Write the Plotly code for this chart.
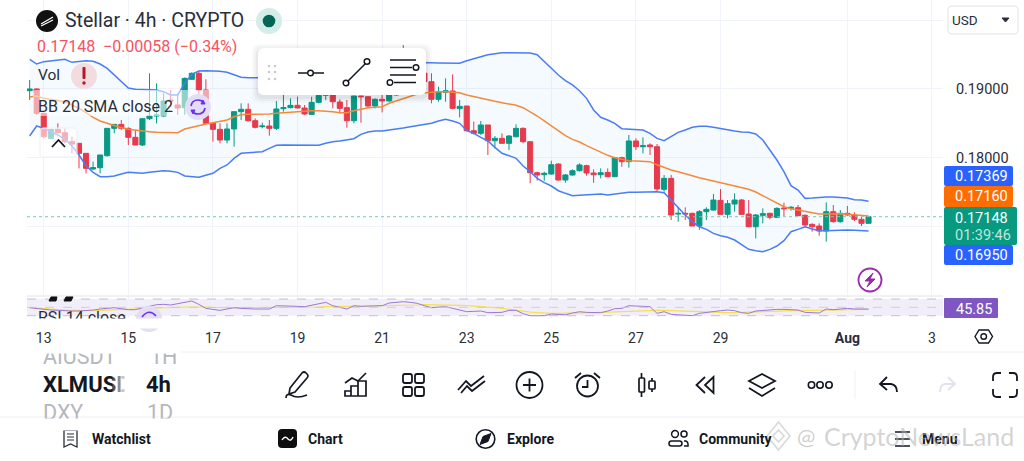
import re
import pandas as pd
import plotly.graph_objects as go

W, H = 1024, 461

# candle data, prices in 1e-5 units
opens = [18975,19000,18647,18284,18415,18366,18236,18212,18067,17840,
         17859,18033,18429,18487,18429,18299,18188,18569,18608,18608,
         18840,18768,18729,19140,19227,18985,18502,18415,18260,18420,
         18671,18705,18540,18453,18463,18429,18714,18729,18763,18724,
         18632,18806,18908,18913,18811,18729,18540,18898,18888,18753,
         18850,18826,18913,19060,19200,19120,19230,19106,18850,18951,
         18971,18714,18753,18395,18357,18478,18250,18284,18212,18308,
         18429,18236,17786,17757,17767,17912,17680,17753,17815,17888,
         17782,17757,17791,17728,18004,17946,18246,18163,18188,18163,
         17545,17704,17187,17197,17197,17013,17221,17245,17385,17182,
         17332,17390,17187,17003,17168,17197,17139,17274,17269,17279,
         17168,17037,17013,16941,17221,17076,17197,17173,17110,17052]
highs = [19130,19009,18647,18415,18502,18429,18308,18212,18067,17946,
         18043,18429,18487,18550,18444,18405,18574,19227,19082,18937,
         18985,18937,19169,19241,19265,19140,18502,18502,18502,18671,
         18792,18792,18574,18511,18550,18826,18913,18864,18888,18768,
         18888,19082,19000,18960,18850,18840,18898,18900,18890,18864,
         18913,18985,19080,19637,19300,19260,19500,19227,19033,19154,
         19212,18840,18753,18526,18536,18478,18318,18357,18333,18487,
         18444,18236,17801,17801,17960,17922,17767,17835,17922,17902,
         17835,17849,17849,18009,18018,18333,18284,18299,18212,18202,
         17753,17753,17284,17284,17206,17245,17284,17477,17550,17390,
         17487,17405,17390,17187,17269,17206,17284,17351,17303,17318,
         17182,17052,17052,17356,17318,17245,17303,17211,17148,17158]
lows = [18840,18623,18284,18270,18357,18212,18067,17849,17777,17825,
        17777,18018,18357,18405,18188,18188,18173,18550,18502,18598,
        18743,18623,18623,19130,18888,18502,18236,18212,18212,18163,
        18550,18526,18429,18429,18323,18405,18671,18719,18719,18623,
        18623,18792,18840,18719,18647,18439,18502,18511,18719,18719,
        18661,18816,18900,19000,19090,19080,19100,18792,18816,18816,
        18705,18589,18386,18342,18333,18043,18139,18212,18115,18299,
        18212,17632,17670,17670,17757,17670,17641,17743,17806,17743,
        17641,17704,17728,17728,17873,17859,18115,18067,18043,17511,
        17511,17100,17076,17100,17013,16955,17100,17235,17182,17124,
        17221,17173,17003,16834,17052,17110,17129,17158,17235,17158,
        16994,16931,16873,16786,17061,17061,17163,17086,17013,17052]
closes = [19000,18647,18308,18415,18366,18236,18202,18067,17849,17859,
          18043,18429,18487,18429,18299,18188,18569,18608,18623,18826,
          18826,18724,19154,19227,18985,18502,18415,18260,18420,18671,
          18705,18540,18444,18463,18429,18710,18729,18763,18724,18637,
          18806,18908,18920,18816,18719,18540,18898,18888,18753,18850,
          18826,18913,19060,19200,19120,19230,19106,18850,18961,18975,
          18719,18748,18395,18357,18478,18250,18284,18212,18318,18429,
          18236,17786,17753,17777,17902,17680,17753,17815,17898,17782,
          17757,17786,17728,18004,17946,18246,18163,18178,18163,17550,
          17704,17173,17197,17187,17013,17221,17255,17390,17182,17337,
          17390,17182,17003,17173,17192,17139,17269,17264,17284,17163,
          17028,17003,16941,17221,17076,17197,17173,17110,17052,17148]

# bollinger bands
bb_upper = [19430,19362,19396,19410,19420,19430,19386,19396,19410,19401,
            19362,19299,19203,19106,19014,18995,18995,18985,18985,18961,
            18913,18913,19082,19212,19261,19265,19265,19256,19241,19203,
            19169,19164,19159,19164,19165,19170,19180,19190,19200,19215,
            19230,19245,19260,19275,19285,19295,19310,19320,19330,19340,
            19350,19360,19370,19375,19380,19385,19386,19381,19377,19372,
            19372,19372,19410,19444,19468,19497,19512,19526,19526,19526,
            19526,19522,19497,19396,19299,19203,19120,19058,18975,18864,
            18695,18589,18550,18502,18424,18420,18415,18405,18357,18284,
            18250,18308,18371,18405,18444,18458,18458,18444,18424,18410,
            18390,18376,18371,18347,18260,18115,17970,17801,17598,17535,
            17414,17419,17429,17434,17434,17429,17419,17395,17390,17371]
bb_basis = [18884,18898,18864,18850,18840,18816,18768,18719,18656,18589,
            18536,18502,18463,18439,18415,18400,18386,18381,18371,18366,
            18366,18366,18420,18444,18478,18492,18511,18526,18550,18598,
            18627,18632,18632,18637,18637,18647,18656,18666,18671,18676,
            18685,18685,18681,18671,18656,18656,18685,18705,18729,18734,
            18743,18792,18826,18864,18898,18927,18946,18956,18961,18961,
            18956,18946,18913,18888,18874,18840,18821,18801,18782,18763,
            18729,18671,18608,18536,18463,18395,18323,18270,18231,18178,
            18130,18076,18038,18004,17980,17960,17956,17956,17946,17902,
            17859,17825,17801,17777,17743,17714,17690,17666,17641,17617,
            17593,17569,17545,17506,17453,17390,17342,17293,17264,17245,
            17221,17202,17187,17187,17192,17192,17182,17173,17163,17158]
bb_lower = [18318,18463,18429,18381,18333,18270,18173,18043,17888,17791,
            17728,17728,17738,17767,17791,17786,17777,17791,17806,17815,
            17806,17791,17738,17724,17719,17748,17777,17849,17898,17994,
            18067,18076,18086,18091,18139,18183,18188,18188,18192,18188,
            18183,18183,18212,18236,18246,18260,18279,18342,18376,18391,
            18391,18405,18415,18434,18453,18468,18482,18502,18536,18560,
            18536,18502,18395,18357,18299,18246,18154,18067,18033,17994,
            17883,17801,17704,17641,17593,17525,17487,17453,17458,17463,
            17472,17477,17463,17477,17497,17501,17501,17506,17511,17511,
            17496,17390,17269,17173,17076,17003,16965,16907,16873,16849,
            16810,16738,16675,16655,16641,16675,16723,16800,16931,16965,
            17003,16970,16945,16945,16950,16955,16955,16950,16945,16941]

# rsi pane
rsi = [49.2,46.8,45.2,43.6,42.8,41.2,41.2,41.2,42,43.6,
       46,47.6,49.2,46.8,44.4,44.4,49.2,52.4,56.4,57.2,
       55.6,58.8,63.6,65.2,57.2,47.6,45.2,42.8,46,49.2,
       47.6,46,46,46,46,54,54,53.2,52.4,51.6,
       55.6,59.6,62,54,50.8,46,54,52.4,53.2,53.2,
       54,60.4,62,63.6,62,59.6,54,49.2,50.8,51.6,
       47.6,43.6,39.6,40.4,41.2,37.2,38,38,42.8,42.8,
       34.8,30,30,30,34,33.2,32,36.4,39.6,38,
       37.2,37.2,41.2,46.8,47.6,54,53.2,52.4,51.6,35.6,
       39.6,33.2,32,30.8,30,35.6,38,41.2,42,43.6,
       42,37.2,35.6,41.2,42.8,43.6,45.2,45.2,44.4,43.6,
       38,37.2,36.4,46,44.4,46,47.6,46,45.2,45.85]
rsi_ma = [49.2,47.6,46,45.2,44.4,43.6,42.8,42,41.2,42,
          42.8,43.6,44.4,44.4,45.2,46,46.8,47.6,48.4,49.2,
          49.2,50,50.8,50.8,51.6,50.8,50,49.2,49.2,49.2,
          49.2,49.2,49.2,49.2,49.2,49.2,50,50,50.8,50.8,
          50.8,50.8,51.6,51.6,51.6,52.4,52.4,52.4,53.2,53.2,
          54,54,54.8,54.8,55.6,55.6,56.4,56.4,56.4,55.6,
          55.6,54.8,54,53.2,52.4,50.8,49.2,47.6,46,43.6,
          41.2,38.8,37.2,35.6,35.6,35.6,35.6,35.6,35.6,36.4,
          37.2,38,38.8,39.6,39.6,40.4,41.2,42,42.8,42.8,
          42.8,42,41.2,41.2,40.4,39.6,39.6,38.8,38,37.2,
          37.2,38,38.8,39.6,40.4,40.4,41.2,41.2,42,42,
          42.8,42.8,43.6,43.6,43.6,44.4,44.4,44.4,45.2,45.2]

tick_dates = ["2025-07-13", "2025-07-15", "2025-07-17", "2025-07-19", "2025-07-21", "2025-07-23",
              "2025-07-25", "2025-07-27", "2025-07-29", "2025-08-01", "2025-08-03"]
tick_labels = ["13", "15", "17", "19", "21", "23", "25", "27", "29", "<b>Aug</b>", "3"]
price_ticks = [0.17, 0.18, 0.19, 0.20]
price_tick_labels = ["", "0.18000", "0.19000", ""]

dates = pd.date_range("2025-07-12 16:00", periods=len(opens), freq="4h")


def scaled(values):
    return [v / 1e5 for v in values]


GREEN = "#089981"
RED = "#F23645"
INK = "#131722"
FONT = "Roboto"

shapes = []
annotations = []


def fx(x):
    return x / W


def fy(y):
    return 1 - y / H


def px_path(d):
    # turn a path written in screen pixels into paper coordinates
    out = []
    is_x = True
    for tok in re.findall(r"[MLQZ]|-?[\d.]+", d):
        if tok in "MLQZ":
            out.append(tok)
        else:
            out.append(f"{fx(float(tok)) if is_x else fy(float(tok)):.5f}")
            is_x = not is_x
    return " ".join(out)


def path(d, color=INK, width=1.7, fill=None):
    shapes.append(dict(type="path", xref="paper", yref="paper", path=px_path(d),
                       fillcolor=fill or "rgba(0,0,0,0)",
                       line=dict(color=color, width=width)))


def rrect(x0, y0, x1, y1, r=0, fill=None, color=None, width=0):
    d = (f"M {x0 + r} {y0} L {x1 - r} {y0} Q {x1} {y0} {x1} {y0 + r} L {x1} {y1 - r} "
         f"Q {x1} {y1} {x1 - r} {y1} L {x0 + r} {y1} Q {x0} {y1} {x0} {y1 - r} "
         f"L {x0} {y0 + r} Q {x0} {y0} {x0 + r} {y0} Z")
    path(d, color=color or "rgba(0,0,0,0)", width=width, fill=fill)


def circle(cx, cy, r, fill=None, color=None, width=0):
    shapes.append(dict(type="circle", xref="paper", yref="paper",
                       x0=fx(cx - r), x1=fx(cx + r), y0=fy(cy - r), y1=fy(cy + r),
                       fillcolor=fill or "rgba(0,0,0,0)",
                       line=dict(color=color or "rgba(0,0,0,0)", width=width)))


def label(text, x, y, size=14, color=INK, anchor="left", family=FONT):
    if anchor == "left":
        x -= 1
    annotations.append(dict(text=text, xref="paper", yref="paper", x=fx(x), y=fy(y),
                            xanchor=anchor, yanchor="middle", showarrow=False, borderpad=0,
                            font=dict(size=size, color=color, family=family)))


def cover(x0, y0, x1, y1, fill="#ffffff"):
    # blank box laid over a label so that it looks cut off
    annotations.append(dict(text=" ", xref="paper", yref="paper", x=fx(x0), y=fy(y0),
                            xanchor="left", yanchor="top", showarrow=False, borderpad=0,
                            width=x1 - x0, height=y1 - y0, bgcolor=fill))


fig = go.Figure()

fig.add_trace(go.Scatter(x=dates, y=scaled(bb_upper), mode="lines", yaxis="y",
                         line=dict(color="#4A7DF5", width=1.5), hoverinfo="skip"))
fig.add_trace(go.Scatter(x=dates, y=scaled(bb_lower), mode="lines", yaxis="y",
                         line=dict(color="#4A7DF5", width=1.5), fill="tonexty",
                         fillcolor="rgba(33,150,243,0.05)", hoverinfo="skip"))
fig.add_trace(go.Scatter(x=dates, y=scaled(bb_basis), mode="lines", yaxis="y",
                         line=dict(color="#F5893A", width=1.5), hoverinfo="skip"))
fig.add_trace(go.Candlestick(x=dates, open=scaled(opens), high=scaled(highs),
                             low=scaled(lows), close=scaled(closes), yaxis="y",
                             whiskerwidth=0,
                             increasing=dict(line=dict(color=GREEN, width=1), fillcolor=GREEN),
                             decreasing=dict(line=dict(color=RED, width=1), fillcolor=RED)))
fig.add_trace(go.Scatter(x=dates, y=rsi_ma, mode="lines", yaxis="y2",
                         line=dict(color="#F5E050", width=1.2), hoverinfo="skip"))
fig.add_trace(go.Scatter(x=dates, y=rsi, mode="lines", yaxis="y2",
                         line=dict(color="#9A78D8", width=1), hoverinfo="skip"))

# last price line and rsi bands
shapes.append(dict(type="line", xref="paper", yref="y", x0=fx(27), x1=fx(943),
                   y0=closes[-1] / 1e5, y1=closes[-1] / 1e5,
                   line=dict(color="#7CC7B8", width=1, dash="dot")))
shapes.append(dict(type="rect", xref="paper", yref="y2", x0=fx(27), x1=fx(943), y0=30, y1=70,
                   fillcolor="rgba(126,87,194,0.1)", line=dict(width=0), layer="below"))
for level in [70, 50, 30]:
    shapes.append(dict(type="line", xref="paper", yref="y2", x0=fx(27), x1=fx(943), y0=level, y1=level,
                       line=dict(color="#C6C8CF" if level == 50 else "#B2B5BE", width=0.8, dash="dash")))
path(f"M 27 296 L 943 296", color="#E0E3EB", width=1)
path("M 27 352 L 1024 352", color="#EEF0F4", width=1)
path("M 0 417 L 1024 417", color="#EEF0F4", width=1)

# header
circle(47, 21, 11, fill="#111111")
path("M 41 24 L 53 17 M 41 26 L 53 20", color="#ffffff", width=1.2)
label("Stellar · 4h · CRYPTO", 65, 21, size=19.5, color="#2A2E39")
circle(269, 21, 13, fill="#D5EDE8")
circle(269, 21, 6.3, fill="#056656")
label("0.17148", 37, 47, size=16, color="#F7525F")
label("−0.00058 (−0.34%)", 103, 47, size=16, color="#F7525F")

# legend rows
rrect(33, 90, 215, 116, r=3, fill="rgba(255,255,255,0.55)")
label("Vol", 38, 75, size=15.5, color="#2A2E39")
circle(84, 76, 13, fill="#F3DCDF")
rrect(82.5, 67, 85.5, 79, r=1, fill="#B2182B")
circle(84, 83, 1.7, fill="#B2182B")
label("BB 20 SMA close 2", 38, 106, size=16, color="#2A2E39")
circle(198, 107, 13, fill="#E3DDF5")
path("M 191 106 Q 192 100 198 100 Q 202 100 204 103 M 205 108 Q 204 114 198 114 Q 194 114 192 111",
     color="#6A32F0", width=1.7)
path("M 203 100 L 205 104 L 201 104 Z M 193 114 L 191 110 L 195 110 Z", color="#6A32F0", width=1, fill="#6A32F0")
rrect(40, 128, 77, 157, r=4, fill="rgba(255,255,255,0.6)", color="#EEF0F4", width=1)
path("M 52 147 L 58.5 140 L 65 147", color=INK, width=1.8)

# floating drawing toolbar
for grow, alpha in [(6, 0.02), (4, 0.03), (2, 0.04)]:
    rrect(258 - grow, 48 - grow + 2, 426 + grow, 95 + grow + 2, r=7, fill=f"rgba(0,0,0,{alpha})")
rrect(258, 48, 426, 95, r=6, fill="#ffffff")
for dot_x in [269, 275]:
    for dot_y in [66, 72, 79]:
        circle(dot_x, dot_y, 1.3, fill="#C9CBD1")
path("M 298 73 L 307 73 M 314 73 L 324 73", width=1.5)
circle(310.5, 73, 2.8, color=INK, width=1.5)
path("M 347.5 81.5 L 365 64", width=1.5)
circle(346, 83, 2.8, color=INK, width=1.5)
circle(367, 61.5, 2.8, color=INK, width=1.5)
path("M 390 60 L 416 60 M 390 67.5 L 412 67.5 M 390 75 L 416 75 M 394 82.5 L 416 82.5", width=1.5)
circle(416, 67.5, 2.8, color=INK, width=1.5, fill="#ffffff")
circle(390, 82.5, 2.8, color=INK, width=1.5, fill="#ffffff")

# price labels on the right
rrect(948, 6, 1018, 34, r=4, color="#E0E3EB", width=1)
label("USD", 952, 20, size=13.5, color="#2A2E39")
path("M 1002 18 L 1005.5 22 L 1009 18 Z", color="#2A2E39", width=1, fill="#2A2E39")
rrect(944, 166, 1013, 186, r=2, fill="#2962FF")
label("0.17369", 981, 176, size=14.5, color="#ffffff", anchor="center")
rrect(944, 186, 1013, 207, r=2, fill="#FF6D00")
label("0.17160", 981, 197, size=14.5, color="#ffffff", anchor="center")
rrect(944, 207, 1017, 245, r=2, fill=GREEN)
label("0.17148", 981, 218, size=14.5, color="#ffffff", anchor="center")
label("01:39:46", 983, 235, size=14.5, color="#BFE6DE", anchor="center")
rrect(944, 245, 1013, 265, r=2, fill="#2962FF")
label("0.16950", 981, 255, size=14.5, color="#ffffff", anchor="center")
rrect(944, 298, 998, 318, r=1, fill="#7E57C2")
label("45.85", 974, 309, size=14.5, color="#ffffff", anchor="center")

# lightning badge
circle(870, 280, 11.5, color="#9C27B0", width=1.8, fill="#ffffff")
path("M 873 273 L 865 281 L 870 281 L 867 287 L 875 279 L 870 279 Z", color="#9C27B0", width=1, fill="#9C27B0")

# rsi legend, cut by the bottom of the pane
path("M 51 297 L 57 297 L 56 301 L 49 301 Z M 66 297 L 73 297 L 71 301 L 64 301 Z", color="#111111", width=1, fill="#111111")
label("RSI 14 close", 38, 317, size=16, color="#2A2E39")
circle(149, 319, 13, fill="#E3DDF5")
path("M 142 317 Q 149 308 156 316", color="#6A32F0", width=1.7)
cover(27, 318, 300, 327)

# settings hexagon
path("M 975 336.5 L 979 330 L 988.5 330 L 992.5 336.5 L 988.5 343 L 979 343 Z", width=1.4)
circle(983.7, 336.5, 2.8, color=INK, width=1.4)

# symbol wheel
label("AIUSDT", 43, 356, size=21.5, color="#B5B7BD")
label("1H", 150, 356, size=21.5, color="#B5B7BD")
cover(27, 345, 180, 351.5)
label("<b>XLMUSD</b>", 43, 384, size=22, color="#131722")
cover(124, 372, 137, 396)
for step, alpha in enumerate([0.25, 0.5, 0.75]):
    cover(112 + step * 4, 372, 116 + step * 4, 396, fill=f"rgba(255,255,255,{alpha})")
label("<b>4h</b>", 146, 384, size=22, color="#131722")
label("DXY", 43, 412, size=21.5, color="#B5B7BD")
label("1D", 147, 412, size=21.5, color="#B5B7BD")
cover(27, 417.5, 180, 428)

# chart toolbar icons
path("M 290 388 L 302 373 Q 304 371 306 373 L 307 374 Q 309 376 307 378 L 295 392 L 289 394 Z", width=1.7)
path("M 286 398 Q 286 393 291 395 Q 297 399 307 395", width=1.7)
path("M 345 383 L 352 378 L 358 381 L 366 373", width=1.7)
path("M 345 396 L 345 391 L 351 391 L 351 396 Z M 351 396 L 351 386 L 358 386 L 358 396 Z M 358 396 L 358 381 L 366 381 L 366 396 Z", width=1.7)
for gx in [403, 415]:
    for gy in [374, 387]:
        rrect(gx, gy, gx + 9, gy + 9, r=2, color=INK, width=1.8)
path("M 458 390 L 466 381 L 471 386 L 484 376 M 461 393 L 467 386 L 472 391 L 485 381", width=1.8)
circle(529.5, 385, 13, color=INK, width=1.8)
path("M 523 385 L 536 385 M 529.5 378.5 L 529.5 391.5", width=1.8)
circle(587.5, 386, 10.5, color=INK, width=1.8)
path("M 587.5 380 L 587.5 387 L 582 387 M 575 378 L 581 373 M 594 373 L 600 378", width=1.8)
path("M 641.5 373 L 641.5 397 M 652 378 L 652 392", width=1.7)
rrect(639, 378, 644.5, 392, r=1, fill="#ffffff", color=INK, width=1.7)
rrect(649, 381, 655, 389, r=1, fill="#ffffff", color=INK, width=1.7)
path("M 705 377 L 696.5 385 L 705 393 M 713.5 377 L 705 385 L 713.5 393 Z", width=1.8)
path("M 762 374 L 775 381 L 762 388 L 749 381 Z M 749 388 L 762 396 L 775 388", width=1.8)
for dot_x in [811.5, 820, 829]:
    circle(dot_x, 385, 3.2, color=INK, width=1.6)
path("M 855 371 L 855 399", color="#EEF0F4", width=1)
path("M 887 377 L 880 384 L 887 390 M 880 384 L 891 384 Q 897 385 897 392", width=1.8)
path("M 948 377 L 955 384 L 948 390 M 955 384 L 945 384 Q 940 385 940 392", color="#E0E3EB", width=1.8)
path("M 993 381 L 993 377 Q 993 373 997 373 L 1001 373 M 1009 373 L 1013 373 Q 1017 373 1017 377 L 1017 381 "
     "M 1017 389 L 1017 393 Q 1017 397 1013 397 L 1009 397 M 1001 397 L 997 397 Q 993 397 993 393 L 993 389", width=1.8)

# bottom navigation
path("M 64 430 L 77 430 L 77 447 L 70.5 444 L 64 447 Z", color="#2A2E39", width=1.3)
path("M 67 434 L 74 434 M 67 437 L 74 437 M 67 440 L 74 440", color="#2A2E39", width=1)
label("<b>Watchlist</b>", 92, 439, size=14)
rrect(278, 429, 297, 448, r=4, fill="#0E0E0E")
path("M 282 440 Q 285 435 288 439 Q 291 442 293 437", color="#ffffff", width=1.4)
label("<b>Chart</b>", 308, 439, size=14)
circle(485.5, 439, 9.3, color=INK, width=1.6)
path("M 491 433.5 L 488 441.5 L 480 444.5 L 483 436.5 Z", color=INK, width=1, fill=INK)
label("<b>Explore</b>", 507, 439, size=14)
circle(675, 434, 3.4, color=INK, width=1.5)
circle(684, 434, 3, color=INK, width=1.5)
rrect(669, 441, 682, 446, r=2.5, color=INK, width=1.5)
path("M 684 441 L 686 441 Q 688 442 688 444 L 688 446 L 684 446", width=1.5)
label("<b>Community</b>", 699, 439, size=14)
path("M 895 432 L 910 432 M 895 439 L 910 439 M 895 446 L 910 446", width=1.6)
label("<b>Menu</b>", 922, 439, size=14)

# watermark
path("M 778.5 422 L 790 436 L 778.5 450 L 767 436 Z M 778.5 430 L 784 436 L 778.5 442 L 773 436 Z",
     color="rgba(200,200,200,0.7)", width=1.6)
label("@", 797, 436, size=22, color="rgba(175,175,175,0.6)", family="Lato")
label("CryptoNewsLand", 824, 436, size=25, color="rgba(175,175,175,0.55)", family="Lato")

fig.update_layout(
    width=W, height=H,
    margin=dict(l=0, r=0, t=0, b=0),
    paper_bgcolor="#ffffff", plot_bgcolor="#ffffff",
    showlegend=False,
    boxgap=0.15, boxgroupgap=0.15,
    shapes=shapes, annotations=annotations,
    xaxis=dict(domain=[fx(27), fx(943)], anchor="y2",
               range=["2025-07-12 14:30", "2025-08-03 06:15"],
               rangeslider=dict(visible=False),
               tickmode="array", tickvals=tick_dates, ticktext=tick_labels,
               showgrid=True, gridcolor="#F0F3FA", gridwidth=1, zeroline=False,
               ticks="outside", ticklen=7, tickcolor="rgba(0,0,0,0)",
               tickfont=dict(family=FONT, size=14, color="#2A2E39"), showline=False),
    yaxis=dict(domain=[fy(295), 1], range=[0.16013, 0.2029], side="right", anchor="x",
               tickmode="array", tickvals=price_ticks, ticktext=price_tick_labels,
               showgrid=True, gridcolor="#F0F3FA", gridwidth=1, zeroline=False,
               ticks="outside", ticklen=9, tickcolor="rgba(0,0,0,0)",
               tickfont=dict(family=FONT, size=14.5, color="#2A2E39")),
    yaxis2=dict(domain=[fy(318), fy(296)], range=[24.5, 77.2], anchor="x",
                showticklabels=False, showgrid=False, zeroline=False),
)

fig.write_html("out.html", post_script="document.body.style.margin='0';",
               config=dict(displayModeBar=False))
